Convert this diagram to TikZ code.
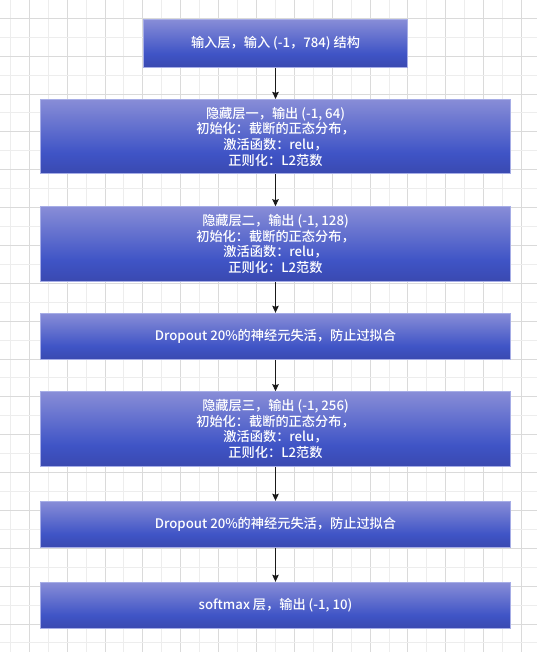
\documentclass[tikz,border=0pt]{standalone}
\usepackage{fontspec}
\setmainfont{Noto Sans CJK SC Medium}
\usetikzlibrary{arrows.meta}
\definecolor{gridminor}{HTML}{EDEDED}
\definecolor{gridmajor}{HTML}{DADADA}
\definecolor{boxtop}{HTML}{888DD7}
\definecolor{boxmid}{HTML}{3F54C6}
\definecolor{boxbot}{HTML}{3A49B0}
\definecolor{boxline}{HTML}{A6ADE6}
\definecolor{linkcol}{HTML}{1A1A1A}
\pgfdeclareverticalshading{layershade}{100bp}{color(0bp)=(boxbot); color(25bp)=(boxbot); color(39bp)=(boxmid); color(75bp)=(boxtop); color(100bp)=(boxtop)}
\tikzset{
  layer/.style={draw=boxline,line width=1pt,shading=layershade,minimum width=469.6pt,minimum height=74.6pt,
    inner sep=0pt,align=center,text=white,font=\fontsize{13.2}{15.8}\selectfont},
  link/.style={draw=linkcol,line width=1pt,->}
}
\begin{document}
\begin{tikzpicture}[x=1pt,y=-1pt,>={Stealth[length=7pt,width=6.5pt,inset=1pt]}]
\useasboundingbox (0,0) rectangle (537,652);
\fill[white] (0,0) rectangle (537,652);
% grid
\foreach \i in {0,...,13} {
  \draw[gridminor,line width=1pt] (10.4+37.86*\i,0)--++(0,652);
  \draw[gridmajor,line width=1pt] (29.3+37.86*\i,0)--++(0,652);
}
\foreach \i in {0,...,16} {
  \draw[gridminor,line width=1pt] (0,37.2+37.86*\i)--++(537,0);
  \draw[gridmajor,line width=1pt] (0,18.3+37.86*\i)--++(537,0);
}
% layers
\node[layer,minimum width=264pt,minimum height=48pt] (in) at (275.5,43.3) {输入层，输入 (-1，784) 结构};
\node[layer] (h1) at (275.5,136.7) {隐藏层一，输出 (-1, 64)\\初始化：截断的正态分布，\\激活函数：relu，\\正则化：L2范数};
\node[layer] (h2) at (275.5,244) {隐藏层二，输出 (-1, 128)\\初始化：截断的正态分布，\\激活函数：relu，\\正则化：L2范数};
\node[layer,minimum height=46pt] (d1) at (275.5,336.3) {Dropout 20\%的神经元失活，防止过拟合};
\node[layer] (h3) at (275.5,429) {隐藏层三，输出 (-1, 256)\\初始化：截断的正态分布，\\激活函数：relu，\\正则化：L2范数};
\node[layer,minimum height=46pt] (d2) at (275.5,524.3) {Dropout 20\%的神经元失活，防止过拟合};
\node[layer,minimum height=46pt] (out) at (275.5,605.3) {softmax 层，输出 (-1, 10)};
% links
\draw[link](in)--(h1);
\draw[link](h1)--(h2);
\draw[link](h2)--(d1);
\draw[link](d1)--(h3);
\draw[link](h3)--(d2);
\draw[link](d2)--(out);
\end{tikzpicture}
\end{document}
